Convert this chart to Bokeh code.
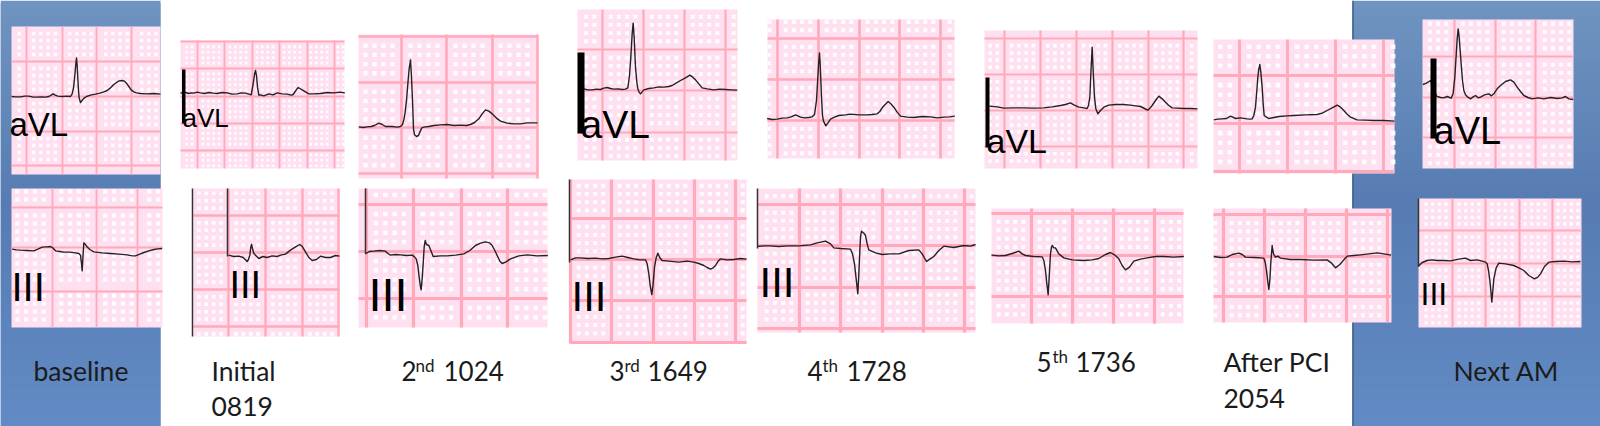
from bokeh.embed import file_html
from bokeh.resources import INLINE
from bokeh.plotting import figure
from bokeh.models import Range1d
from bokeh.core.properties import value

# ---- traces (crop readings, 3x scale) ----
avl_baseline_t = [33,45,60,72,85,98,110,122,135,145,152,158,164,172,185,200,210,215,219,223,226,228,230,232,234,236,240,246,252,258,270,285,298,310,320,330,340,348,356,365,372,378,385,392,400,408,420,440,460,480]
avl_baseline_v = [288,289,289,287,287,290,290,289,290,288,284,280,284,287,288,287,288,280,262,225,190,172,195,235,270,292,306,298,292,288,284,281,278,274,270,262,252,246,241,240,242,248,258,268,274,277,279,280,279,281]
avl_initial_t = [540,548,556,564,572,580,590,600,612,625,638,650,665,680,695,710,722,735,745,752,758,762,765,768,771,775,780,790,805,818,830,845,860,872,878,884,889,893,898,905,915,925,940,960,980,1000,1018,1033]
avl_initial_v = [278,276,276,279,277,278,275,277,279,276,278,279,276,277,281,280,277,278,281,283,250,222,210,225,260,284,283,286,280,283,277,280,281,284,282,273,266,261,264,268,274,280,280,279,276,277,275,277]
avl_2nd_t = [25,38,50,62,72,85,95,105,125,140,150,156,160,164,168,172,176,180,183,186,189,192,198,204,208,214,220,235,250,270,290,310,330,348,360,372,385,395,405,415,425,437,450,470,490,510,530,561]
avl_2nd_v = [379,381,379,378,375,368,372,378,378,380,378,372,358,335,300,250,205,178,230,300,385,403,408,405,395,382,380,378,375,373,372,375,374,375,372,366,355,340,328,332,340,352,362,368,370,370,367,367]
avl_3rd_t = [700,712,725,738,750,760,770,780,790,803,815,825,832,837,841,845,848,851,855,859,862,866,870,875,880,895,910,925,940,955,965,978,990,1005,1018,1027,1035,1045,1055,1070,1090,1108,1125,1142,1160]
avl_3rd_v = [265,268,268,266,267,263,261,264,266,265,267,266,262,225,170,100,68,110,200,245,265,275,280,274,268,264,262,259,260,258,255,247,240,232,224,230,238,250,262,265,268,266,267,268,269]
avl_4th_t = [50,65,80,95,110,122,135,142,150,162,175,185,192,198,202,205,207,209,211,213,216,219,226,232,240,252,265,285,300,325,350,365,380,388,395,404,413,421,430,440,450,470,490,515,540,560,580,597,613]
avl_4th_v = [354,357,356,353,352,349,343,346,350,352,351,349,342,300,230,180,157,190,240,290,345,362,376,368,356,350,345,343,341,343,343,342,340,333,322,312,303,310,320,335,347,350,351,348,349,352,350,349,347]
avl_5th_t = [717,740,760,790,820,850,880,905,930,945,960,970,985,1000,1010,1014,1018,1021,1025,1028,1032,1036,1042,1050,1060,1075,1095,1118,1140,1155,1170,1182,1192,1198,1205,1215,1225,1235,1245,1255,1265,1280,1300,1320,1341]
avl_5th_v = [317,319,323,322,322,323,322,319,315,312,307,313,320,322,324,315,290,220,140,210,290,325,340,330,320,314,312,312,314,316,318,324,329,323,315,300,287,295,305,315,322,323,324,324,325]
avl_pci_t = [100,112,125,138,150,157,165,180,200,208,215,220,225,229,232,235,238,241,245,248,251,258,265,280,295,320,340,375,410,425,440,455,470,480,490,500,510,530,555,580,610,642]
avl_pci_v = [358,356,355,354,347,350,354,352,355,356,355,345,320,270,230,205,192,215,260,310,345,350,354,351,348,346,345,343,342,338,330,322,314,320,330,341,350,358,359,360,360,362]
avl_next_t = [727,738,750,768,780,790,800,812,818,823,827,830,833,836,839,842,846,850,855,862,870,878,885,893,900,912,925,933,940,950,960,975,990,1000,1010,1020,1030,1042,1055,1072,1090,1110,1130,1145,1155,1165,1178]
avl_next_v = [252,248,240,287,291,292,288,293,278,230,165,115,85,110,150,190,240,270,283,290,295,289,285,292,290,283,280,286,280,265,255,243,238,245,260,273,285,291,295,292,295,291,294,292,288,295,297]

iii_baseline_t = [35,48,60,80,100,112,125,138,150,158,165,178,190,208,225,235,240,243,245,248,250,254,258,268,280,305,330,355,380,395,405,418,430,445,460,472,485]
iii_baseline_v = [107,109,110,111,112,107,101,100,99,104,112,114,116,116,118,120,125,150,172,120,88,92,98,108,115,118,120,122,124,127,127,122,117,112,108,106,105]
iii_initial_t = [684,700,715,728,740,744,748,751,753,756,760,768,775,787,800,815,830,840,855,870,885,898,906,915,925,935,948,960,975,990,1005,1017]
iii_initial_v = [125,129,128,132,144,138,125,100,92,105,120,128,135,129,132,127,129,125,122,110,100,93,100,115,132,141,138,128,132,132,126,128]
iii_2nd_t = [44,57,70,88,105,112,120,135,150,168,185,192,197,202,206,210,212,215,218,221,224,228,235,241,248,270,290,315,340,358,375,390,405,417,425,433,440,448,455,467,480,505,530,560,592]
iii_2nd_v = [250,243,242,240,242,249,254,252,253,255,254,259,265,285,320,350,358,325,280,230,210,222,225,240,258,256,256,254,250,240,225,218,214,217,225,240,255,272,279,274,265,256,253,256,255]
iii_3rd_t = [660,675,690,712,735,755,775,795,815,832,850,868,885,890,895,899,904,908,912,917,922,928,935,955,985,1010,1030,1045,1060,1070,1080,1088,1095,1103,1110,1130,1150,1170,1188]
iii_3rd_v = [268,262,262,264,263,265,264,260,257,261,265,268,268,280,310,345,372,340,290,262,248,262,270,272,275,272,275,279,285,291,296,292,285,272,265,268,267,264,266]
iii_4th_t = [20,40,60,85,110,145,180,200,225,240,250,270,300,306,312,317,322,325,328,330,333,340,345,350,355,375,395,420,445,475,505,515,528,538,550,565,580,610,640,660,675]
iii_4th_v = [228,226,226,228,226,226,223,217,212,220,232,234,236,250,280,325,370,310,240,200,182,188,195,220,238,247,252,250,250,240,238,250,273,266,258,240,227,231,225,227,222]
iii_5th_t = [723,745,765,785,805,815,825,850,875,880,885,889,893,896,900,903,905,910,915,925,940,965,1000,1025,1045,1065,1080,1092,1105,1115,1125,1137,1150,1170,1190,1215,1240,1270,1300]
iii_5th_v = [254,256,255,249,242,250,255,258,259,270,300,340,373,320,250,230,225,232,232,250,262,268,270,268,264,252,246,253,265,285,298,290,272,266,262,258,258,260,258]
iii_pci_t = [100,120,140,155,175,185,195,220,250,254,258,262,265,268,271,275,279,285,292,300,330,360,400,440,452,465,478,490,500,520,540,565,590,610,632]
iii_pci_v = [198,201,200,192,188,192,200,201,203,215,240,275,297,270,215,165,190,200,197,203,207,207,209,208,217,232,222,208,197,195,193,190,187,190,194]
iii_next_t = [713,725,740,755,770,790,810,835,855,870,890,905,915,920,924,928,931,934,937,940,947,955,975,1000,1015,1030,1045,1062,1072,1080,1092,1105,1125,1150,1175,1200]
iii_next_v = [228,216,210,208,210,210,211,206,203,210,208,212,215,220,240,270,300,335,300,265,232,218,220,225,232,240,255,265,260,250,228,215,213,212,214,213]

captions = ["baseline", "Initial", "0819", "After PCI", "2054", "Next AM"]
stage_ordinals = ["2", "3", "4", "5"]
stage_suffixes = ["nd", "rd", "th", "th"]
stage_times = ["1024", "1649", "1728", "1736"]

# ---- layout of the strips, in reference pixels ----
PAPER = "#FFE0F1"
GRID = "#FFA9BA"
INK = "#222222"

# box (x0,x1,y0,y1), vertical rules, horizontal rules, rule width, crop origin, t, v
strips = [
    ((11,160,26,174),  [26,62,96,131], [61,96,131,165], 1.8, (0,0), avl_baseline_t, avl_baseline_v),
    ((180,344,40,168), [197,224,252,279,307,334], [41,68,96,123,150], 1.8, (0,0), avl_initial_t, avl_initial_v),
    ((358,537,34,178), [401,446,492,537], [36,82,127,173], 2.6, (350,0), avl_2nd_t, avl_2nd_v),
    ((577,737,9,160),  [602,643,684,725], [49,90,132], 2.2, (350,0), avl_3rd_t, avl_3rd_v),
    ((767,954,19,158), [777,818,859,899,940], [38,79,120], 2.6, (750,0), avl_4th_t, avl_4th_v),
    ((984,1197,30,168),[1004,1040,1076,1112,1148,1183], [38,74,110,146], 2.2, (750,0), avl_5th_t, avl_5th_v),
    ((1213,1394,39,173),[1239,1287,1335,1383], [75,123,171], 2.8, (1180,0), avl_pci_t, avl_pci_v),
    ((1422,1573,19,168),[1454,1495,1535], [56,97,137], 2.2, (1180,0), avl_next_t, avl_next_v),
    ((11,162,188,327), [52,96,137], [207,247,291], 1.8, (0,213), iii_baseline_t, iii_baseline_v),
    ((193,339,188,336),[228,265,302,338], [215,252,289,326], 2.4, (0,213), iii_initial_t, iii_initial_v),
    ((358,547,188,327),[366,413,461,507], [204,251,298], 3.2, (350,170), iii_2nd_t, iii_2nd_v),
    ((570,746,179,343),[570,611,653,694,735], [218,259,300,342], 3.2, (350,170), iii_3rd_t, iii_3rd_v),
    ((757,975,188,332),[799,840,882,923,964], [204,245,287,328], 3.2, (750,170), iii_4th_t, iii_4th_v),
    ((991,1183,208,323),[1031,1072,1113,1154], [213,255,296], 3.2, (750,170), iii_5th_t, iii_5th_v),
    ((1213,1391,208,322),[1223,1264,1305,1346,1387], [214,256,296], 3.2, (1180,190), iii_pci_t, iii_pci_v),
    ((1418,1581,198,327),[1452,1485,1519,1552], [230,263,296], 2.2, (1180,190), iii_next_t, iii_next_v),
]

p = figure(width=1600, height=426, x_range=Range1d(0, 1600), y_range=Range1d(426, 0),
           output_backend="svg", toolbar_location=None, min_border=0,
           background_fill_color="white", border_fill_color="white", outline_line_color=None)
p.axis.visible = False
p.grid.visible = False

# blue side panels with vertical gradient
stops = [(0, (112,148,192)), (200, (86,124,178)), (426, (98,138,196))]
def band(y):
    for (a, ca), (b, cb) in zip(stops, stops[1:]):
        if y <= b:
            f = (y - a) / (b - a)
            return tuple(int(round(ca[i] + f * (cb[i] - ca[i]))) for i in range(3))
    return stops[-1][1]
ys = list(range(0, 426, 3))
cols = ["#%02x%02x%02x" % band(y) for y in ys]
for xl, xr in ((0, 160), (1352, 1600)):
    # bands overlap the next one so that no seams show
    p.quad(left=[xl]*len(ys), right=[xr]*len(ys), top=ys, bottom=[min(y+6, 426) for y in ys],
           fill_color=cols, line_color=None)
p.segment([1352.5], [0], [1352.5], [426], line_color="#43628c", line_width=1.5)

# strips
for (x0, x1, y0, y1), vs, hs, w, (ox, oy), t, v in strips:
    p.quad(left=[x0], right=[x1], top=[y0], bottom=[y1], fill_color=PAPER, line_color=None)
    # white holes of the fine paper grid
    px, py = (vs[1]-vs[0]) / 5, (hs[1]-hs[0]) / 5
    dx, dy = [], []
    kx0, kx1 = int((x0-vs[0])/px)-1, int((x1-vs[0])/px)+1
    ky0, ky1 = int((y0-hs[0])/py)-1, int((y1-hs[0])/py)+1
    for i in range(kx0, kx1+1):
        for j in range(ky0, ky1+1):
            if i % 5 == 0 or j % 5 == 0:
                continue
            cx, cy = vs[0]+i*px, hs[0]+j*py
            if x0+1 < cx < x1-1 and y0+1 < cy < y1-1:
                dx.append(cx); dy.append(cy)
    p.rect(dx, dy, width=px*0.48, height=py*0.48, fill_color="white", fill_alpha=0.92, line_color=None)
    p.segment(vs, [y0]*len(vs), vs, [y1]*len(vs), line_color=GRID, line_width=w)
    p.segment([x0]*len(hs), hs, [x1]*len(hs), hs, line_color=GRID, line_width=w)
    p.line([ox + a/3 for a in t], [oy + b/3 for b in v], line_color=INK, line_width=1.4, line_join="round")

# calibration marks
p.quad(left=[181.5,577,985,1430], right=[185,584,989,1436], top=[69,52,77,58], bottom=[123,133,147,138],
       fill_color="black", line_color=None)
p.segment([192,227,365,569,757,1418], [188,188,188,179,188,198], [192,227,365,569,757,1418],
          [336,256,253,262,248,266], line_color="#333333", line_width=1.5)

def label(x, y, s, size, font, color):
    # the renderer sets text about 0.35 em below the requested baseline
    p.text([x], [y - 0.35 * size], text=[s], text_font=font, text_font_size=f"{size}px",
           text_color=color, text_baseline="alphabetic", text_align="left")

# lead names
ARIAL = value("Liberation Sans")
for x, y, s in [(9,136,33),(182,127,26),(580,138,39),(986,152,34),(1433,144,38)]:
    label(x, y, "aVL", s, ARIAL, "black")
for x, y, s in [(11,300,40),(229,298,38),(368,310,47),(571,311,42),(759,297,42),(1420,305,32)]:
    label(x, y, "III", s, ARIAL, "black")

# captions
LATO = value("Lato")
TXT = "#1b1b1b"
for s, x, y in zip(captions, [33,211,211,1223,1223,1453], [380,380,415,371,407,380]):
    label(x, y, s, 26.5, LATO, TXT)
for o, sfx, tm, x, xs, xt, y in zip(stage_ordinals, stage_suffixes, stage_times,
                                   [401,609,807,1036],[415,624,822,1052],[443,647,846,1075],[380,380,380,371]):
    label(x, y, o, 26, LATO, TXT)
    label(xs, y - 9, sfx, 17, LATO, TXT)
    label(xt, y, tm, 26, LATO, TXT)

open("out.html", "w").write(file_html(p, INLINE))
